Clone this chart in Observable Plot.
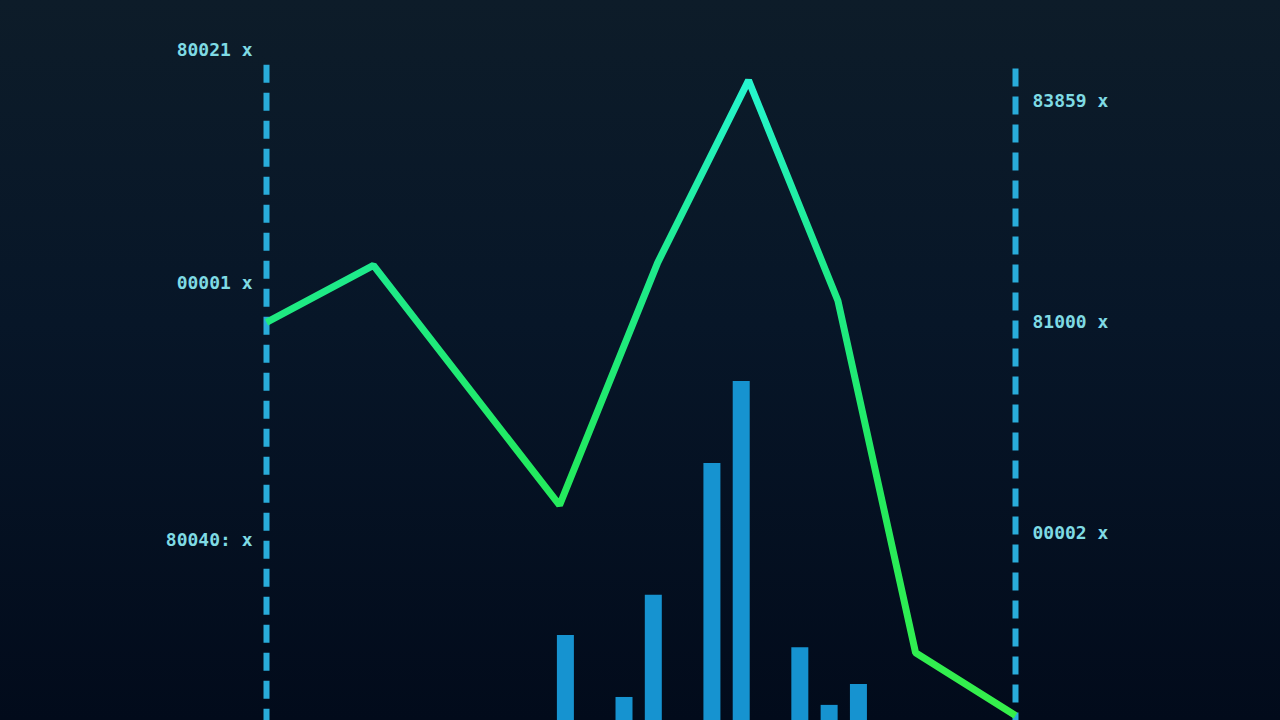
<!DOCTYPE html>
<html>
<head>
<meta charset="utf-8">
<script src="https://cdn.jsdelivr.net/npm/d3@7"></script>
<script src="https://cdn.jsdelivr.net/npm/@observablehq/plot@0.6"></script>
<style>
  html, body { margin: 0; padding: 0; width: 1280px; height: 720px; overflow: hidden;
    background: linear-gradient(180deg, #0d1c29 0%, #071628 45%, #020b1b 100%); }
  #chart svg { display: block; background: transparent; }
</style>
</head>
<body>
<div id="chart"></div>
<script>
// Line series (position, value)
const lineX = [-0.2, 3.45, 9.8, 13.15, 16.25, 19.3, 21.95, 25.36];
const lineY = [55.3, 63.2, 29.9, 63.6, 88.9, 58.3, 9.4, 0.7];
// Bar series
const barX = [10, 12, 13, 15, 16, 18, 19, 20];
const barY = [11.8, 3.2, 17.4, 35.7, 47.1, 10.1, 2.1, 5.0];
// Axis labels
const leftLabels = ["80021 x", "00001 x", "80040: x"];
const leftLabelY = [93.1, 60.8, 25.0];
const rightLabels = ["83859 x", "81000 x", "00002 x"];
const rightLabelY = [86.0, 55.3, 26.0];
const xDomain = [-0.2, 25.36];

const lineData = lineX.map((x, i) => ({x, y: lineY[i]}));
const barData = barX.map((x, i) => ({x, y: barY[i]}));
const leftData = leftLabels.map((t, i) => ({t, y: leftLabelY[i]}));
const rightData = rightLabels.map((t, i) => ({t, y: rightLabelY[i]}));

const plot = Plot.plot({
  width: 1280,
  height: 720,
  margin: 0,
  style: {background: "transparent"},
  x: {domain: xDomain, range: [266, 1015], axis: null},
  y: {domain: [0, 100], range: [720, 0], axis: null},
  marks: [
    Plot.ruleX([xDomain[0]], {y1: 91, y2: 0, stroke: "#29acda", strokeWidth: 6, strokeDasharray: "18,10"}),
    Plot.ruleX([xDomain[1]], {y1: 90.5, y2: 0, stroke: "#29acda", strokeWidth: 6, strokeDasharray: "18,10"}),
    Plot.ruleX(barData, {x: "x", y1: 0, y2: "y", stroke: "#1693d0", strokeWidth: 17}),
    Plot.line(lineData, {x: "x", y: "y", stroke: "url(#lineGrad)", strokeWidth: 7, strokeLinejoin: "miter", strokeLinecap: "butt"}),
    Plot.text(leftData, {x: () => xDomain[0], y: "y", text: "t", dx: -14, textAnchor: "end",
      fill: "#7fdbe4", fontSize: 18, fontWeight: "bold", fontFamily: "DejaVu Sans Mono"}),
    Plot.text(rightData, {x: () => xDomain[1], y: "y", text: "t", dx: 17, textAnchor: "start",
      fill: "#7fdbe4", fontSize: 18, fontWeight: "bold", fontFamily: "DejaVu Sans Mono"})
  ]
});

const ns = "http://www.w3.org/2000/svg";
const defs = document.createElementNS(ns, "defs");
const grad = document.createElementNS(ns, "linearGradient");
grad.setAttribute("id", "lineGrad");
grad.setAttribute("gradientUnits", "userSpaceOnUse");
grad.setAttribute("x1", "0"); grad.setAttribute("x2", "0");
grad.setAttribute("y1", "80"); grad.setAttribute("y2", "720");
[["0", "#26f5cf"], ["0.3", "#1eea8a"], ["0.6", "#22ea60"], ["1", "#36f04a"]].forEach(([o, c]) => {
  const s = document.createElementNS(ns, "stop");
  s.setAttribute("offset", o); s.setAttribute("stop-color", c);
  grad.appendChild(s);
});
defs.appendChild(grad);
plot.insertBefore(defs, plot.firstChild);
document.getElementById("chart").appendChild(plot);
</script>
</body>
</html>
